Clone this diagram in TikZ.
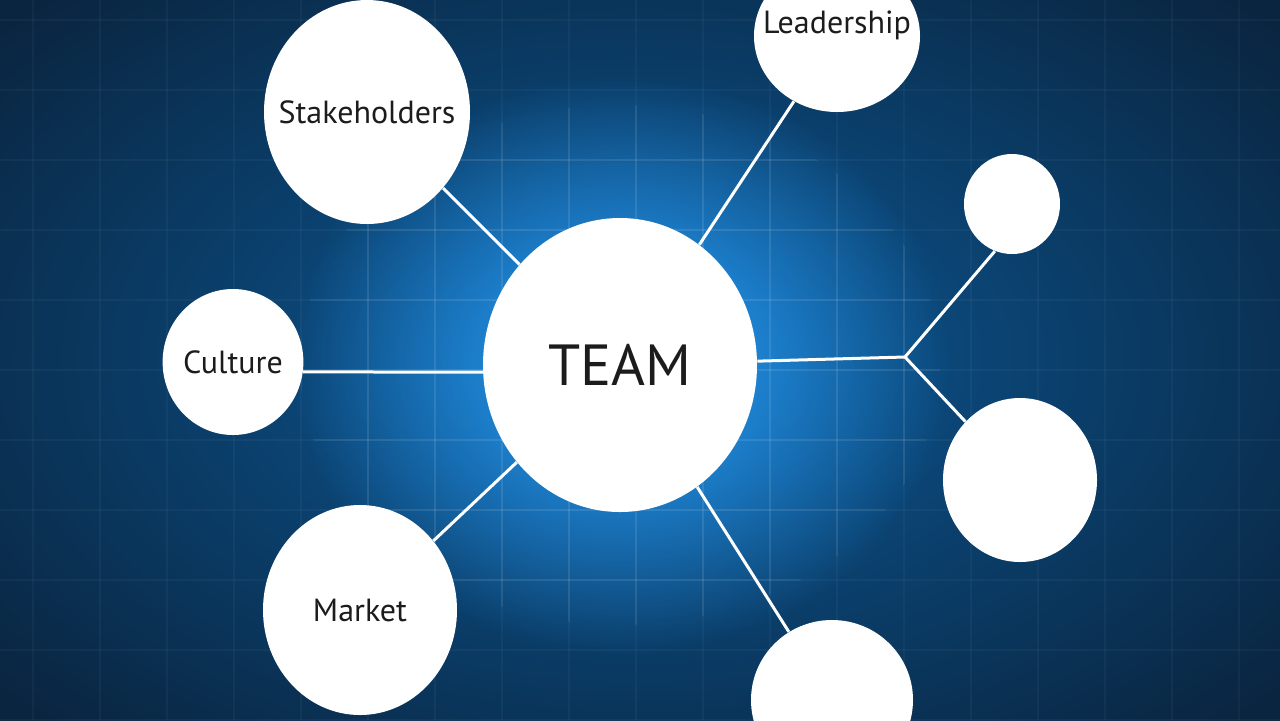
\documentclass[tikz,border=0pt]{standalone}
\usepackage{fontspec}
\setmainfont{PT Sans}
\usetikzlibrary{shapes.geometric,fadings}
\definecolor{bgdark}{HTML}{0A2540}
\definecolor{bgmid}{HTML}{0B5A98}
\definecolor{glowblue}{HTML}{2AA2FF}
\definecolor{inkgray}{HTML}{1C1C1C}
\tikzfading[name=glowfade, inner color=transparent!0, outer color=transparent!100]
\tikzset{
  bubble/.style={ellipse, fill=white, text=inkgray, inner sep=0pt,
    font=\fontsize{16}{18}\selectfont},
  widebubble/.style={bubble, inner xsep=-16pt},
  hub/.style={bubble, font=\fontsize{29}{32}\selectfont},
  link/.style={draw=white, line width=1.5pt},
  gridline/.style={white, line width=0.8pt},
}

\begin{document}
\begin{tikzpicture}[x=0.5pt,y=-0.5pt]
   \useasboundingbox (0,0) rectangle (1280,720);
   % backdrop
   \shade[inner color=bgmid, outer color=bgdark] (-200,-150) rectangle (1480,870);
   \fill[glowblue, path fading=glowfade] (620,365) ellipse (165pt and 145pt);
   \foreach \gx in {33,100,...,1280} \draw[gridline, opacity=0.035] (\gx,0) -- (\gx,720);
   \foreach \gy in {20,90,...,720} \draw[gridline, opacity=0.035] (0,\gy) -- (1280,\gy);
   \begin{scope}
      \clip (620,365) ellipse (160pt and 130pt);
      \foreach \gx in {33,100,...,1280} \draw[gridline, opacity=0.07] (\gx,0) -- (\gx,720);
      \foreach \gy in {20,90,...,720} \draw[gridline, opacity=0.07] (0,\gy) -- (1280,\gy);
   \end{scope}
   % bubbles
   \node[hub, minimum width=137pt, minimum height=147pt] (team) at (620,365) {TEAM};
   \node[widebubble, minimum width=103pt, minimum height=112pt] (stake) at (367,112) {Stakeholders};
   \node[widebubble, minimum width=83pt, minimum height=76pt, text depth=14pt] (lead) at (837,36) {Leadership};
   \node[bubble, minimum width=48pt, minimum height=50pt] (small) at (1012,204) {};
   \node[bubble, minimum width=77pt, minimum height=82pt] (right) at (1020,480) {};
   \node[bubble, minimum width=81pt, minimum height=80pt] (bottom) at (832,700) {};
   \node[bubble, minimum width=97pt, minimum height=105pt] (market) at (360,610) {Market};
   \node[bubble, minimum width=68pt, minimum height=73pt] (culture) at (233,362) {Culture};
   \coordinate (fork) at (905,357);
   % links
   \draw[link] (stake) -- (team);
   \draw[link] (lead) -- (team);
   \draw[link] (culture.-8) -- (team.-177);
   \draw[link] (market) -- (team);
   \draw[link] (bottom) -- (team);
   \draw[link] (team) -- (fork);
   \draw[link] (fork) -- (small.-110);
   \draw[link] (fork) -- (right);
\end{tikzpicture}
\end{document}
